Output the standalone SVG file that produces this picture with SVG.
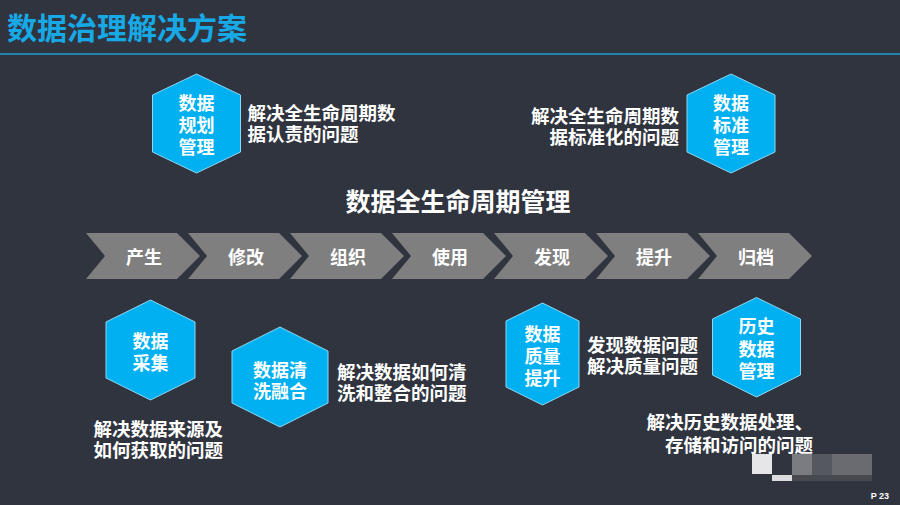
<svg xmlns="http://www.w3.org/2000/svg" width="900" height="505" viewBox="0 0 900 505">
<style>
text{font-family:"Noto Sans CJK SC","Liberation Sans",sans-serif;font-weight:bold;dominant-baseline:central}
.hex{fill:#00b0f0;stroke:#8cd8f5;stroke-width:1}
.hx{fill:#fff;font-size:18px;text-anchor:middle}
.desc{fill:#fff;font-size:18.5px}
.chev{fill:#7f7f7f}
.cl{fill:#fff;font-size:18px;text-anchor:middle}
</style>
<rect width="900" height="505" fill="#30343e"/>
<text x="7" y="25.5" style="font-size:30px;fill:#17a9e6">数据治理解决方案</text>
<line x1="0" y1="54" x2="900" y2="54" stroke="#1e9fd6" stroke-width="1.5"/>
<text x="458" y="200" style="font-size:25px;fill:#fff;text-anchor:middle">数据全生命周期管理</text>

<g id="lifecycle">
<g id="c1"><polygon class="chev" points="86,233 177,233 200,256 177,279 86,279 105,256"/><text class="cl" x="144" y="256">产生</text></g>
<g id="c2"><polygon class="chev" points="188,233 279,233 302,256 279,279 188,279 207,256"/><text class="cl" x="246" y="256">修改</text></g>
<g id="c3"><polygon class="chev" points="290,233 381,233 404,256 381,279 290,279 309,256"/><text class="cl" x="348" y="256">组织</text></g>
<g id="c4"><polygon class="chev" points="392,233 483,233 506,256 483,279 392,279 411,256"/><text class="cl" x="450" y="256">使用</text></g>
<g id="c5"><polygon class="chev" points="494,233 585,233 608,256 585,279 494,279 513,256"/><text class="cl" x="552" y="256">发现</text></g>
<g id="c6"><polygon class="chev" points="596,233 687,233 710,256 687,279 596,279 615,256"/><text class="cl" x="654" y="256">提升</text></g>
<g id="c7"><polygon class="chev" points="698,233 789,233 812,256 789,279 698,279 717,256"/><text class="cl" x="756" y="256">归档</text></g>
</g>

<g id="plan">
<polygon class="hex" points="196.5,74 240.5,95 240.5,152 196.5,173 152.5,152 152.5,95"/>
<text class="hx"><tspan x="196.5" y="101.5">数据</tspan><tspan x="196.5" y="123.5">规划</tspan><tspan x="196.5" y="145.5">管理</tspan></text>
<text class="desc"><tspan x="247.5" y="112">解决全生命周期数</tspan><tspan x="247.5" y="133">据认责的问题</tspan></text>
</g>

<g id="standard">
<polygon class="hex" points="731,74 775,95 775,152 731,173 687,152 687,95"/>
<text class="hx"><tspan x="731" y="101.5">数据</tspan><tspan x="731" y="123.5">标准</tspan><tspan x="731" y="145.5">管理</tspan></text>
<text class="desc" text-anchor="end"><tspan x="679" y="115">解决全生命周期数</tspan><tspan x="679" y="136">据标准化的问题</tspan></text>
</g>

<g id="collect">
<polygon class="hex" points="150.5,300 195,322 195,378 150.5,400 106,378 106,322"/>
<text class="hx"><tspan x="150.5" y="340">数据</tspan><tspan x="150.5" y="362">采集</tspan></text>
<text class="desc"><tspan x="93.5" y="428">解决数据来源及</tspan><tspan x="93.5" y="449">如何获取的问题</tspan></text>
</g>

<g id="cleanse">
<polygon class="hex" points="280,327 328,351 328,403 280,427 232,403 232,351"/>
<text class="hx"><tspan x="280" y="368.5">数据清</tspan><tspan x="280" y="390">洗融合</tspan></text>
<text class="desc"><tspan x="337" y="371">解决数据如何清</tspan><tspan x="337" y="392">洗和整合的问题</tspan></text>
</g>

<g id="quality">
<polygon class="hex" points="542.5,303 579,321 579,387 542.5,405 506,387 506,321"/>
<text class="hx"><tspan x="542.5" y="333">数据</tspan><tspan x="542.5" y="355">质量</tspan><tspan x="542.5" y="377">提升</tspan></text>
<text class="desc"><tspan x="587" y="343.5">发现数据问题</tspan><tspan x="587" y="365">解决质量问题</tspan></text>
</g>

<g id="history">
<polygon class="hex" points="756.5,297.5 800.5,319 800.5,375 756.5,397 712.5,375 712.5,319"/>
<text class="hx"><tspan x="756.5" y="325">历史</tspan><tspan x="756.5" y="347.5">数据</tspan><tspan x="756.5" y="370">管理</tspan></text>
<text class="desc" text-anchor="end"><tspan x="813" y="421">解决历史数据处理、</tspan><tspan x="813" y="444">存储和访问的问题</tspan></text>
</g>

<g id="watermark">
<rect x="752" y="454" width="20" height="20" fill="#e6e6e8"/>
<rect x="772" y="475" width="20" height="6" fill="#dcdcde"/>
<rect x="792" y="454" width="20" height="21" fill="#7a7c82"/>
<rect x="812" y="454" width="20" height="21" fill="#55585f"/>
<rect x="832" y="454" width="20" height="21" fill="#696b71"/>
<rect x="852" y="454" width="20" height="21" fill="#6a6b70"/>
<rect x="792" y="475" width="80" height="6" fill="#464950"/>
</g>

<text x="889" y="496" text-anchor="end" style="font-family:'Liberation Sans',sans-serif;font-size:9px;fill:#fff">P 23</text>
</svg>
